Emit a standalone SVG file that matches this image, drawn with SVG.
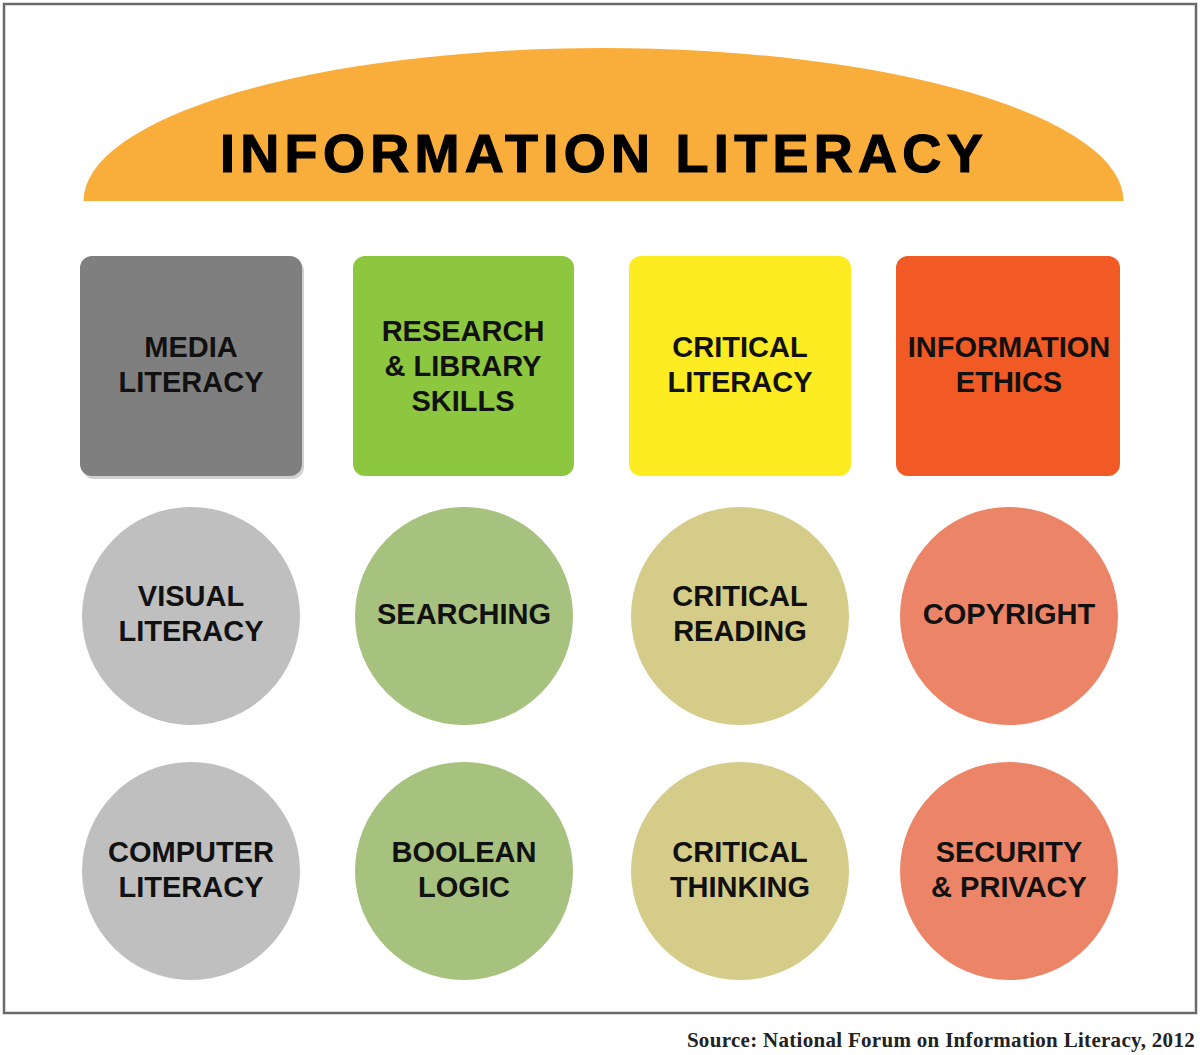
<svg xmlns="http://www.w3.org/2000/svg" width="1200" height="1055" viewBox="0 0 1200 1055">
  <style>
    .lbl { font-family: "Liberation Sans", Arial, sans-serif; font-weight: bold; font-size: 29px; fill: #111; text-anchor: middle; }
    .title { font-family: "Liberation Sans", Arial, sans-serif; font-weight: bold; font-size: 54px; fill: #000; text-anchor: middle; letter-spacing: 5.3px; stroke: #000; stroke-width: 1.2px; }
    .src { font-family: "Liberation Serif", "Times New Roman", serif; font-weight: bold; font-size: 21px; letter-spacing: 0.3px; fill: #222; text-anchor: end; }
    .shadow { fill: #000; opacity: 0.18; }
  </style>
  <rect x="0" y="0" width="1200" height="1055" fill="#ffffff"/>
  <rect id="frame" x="4" y="4" width="1192" height="1009" fill="none" stroke="#6a6a6a" stroke-width="2.5"/>

  <g id="header">
    <path d="M 83.5 201 A 520 153 0 0 1 1123.5 201 Z" fill="#f9ae3c"/>
    <text class="title" x="604" y="172">INFORMATION LITERACY</text>
  </g>

  <g id="media-literacy">
    <rect class="shadow" x="82" y="259" width="222" height="220" rx="12"/>
    <rect x="80" y="256" width="222" height="220" rx="12" fill="#7f7f7f"/>
    <text class="lbl" x="191" y="357">MEDIA</text>
    <text class="lbl" x="191" y="392">LITERACY</text>
  </g>
  <g id="research-library-skills">
    <rect x="353" y="256" width="221" height="220" rx="12" fill="#8dc63f"/>
    <text class="lbl" x="463" y="341">RESEARCH</text>
    <text class="lbl" x="463" y="376">&amp; LIBRARY</text>
    <text class="lbl" x="463" y="411">SKILLS</text>
  </g>
  <g id="critical-literacy">
    <rect x="629" y="256" width="222" height="220" rx="12" fill="#fdec22"/>
    <text class="lbl" x="740" y="357">CRITICAL</text>
    <text class="lbl" x="740" y="392">LITERACY</text>
  </g>
  <g id="information-ethics">
    <rect x="896" y="256" width="224" height="220" rx="12" fill="#f15a24"/>
    <text class="lbl" x="1009" y="357">INFORMATION</text>
    <text class="lbl" x="1009" y="392">ETHICS</text>
  </g>

  <g id="visual-literacy">
    <circle cx="191" cy="616" r="109" fill="#bfbfbf"/>
    <text class="lbl" x="191" y="606">VISUAL</text>
    <text class="lbl" x="191" y="641">LITERACY</text>
  </g>
  <g id="searching">
    <circle cx="464" cy="616" r="109" fill="#a6c27e"/>
    <text class="lbl" x="464" y="624">SEARCHING</text>
  </g>
  <g id="critical-reading">
    <circle cx="740" cy="616" r="109" fill="#d4cc88"/>
    <text class="lbl" x="740" y="606">CRITICAL</text>
    <text class="lbl" x="740" y="641">READING</text>
  </g>
  <g id="copyright">
    <circle cx="1009" cy="616" r="109" fill="#ec8567"/>
    <text class="lbl" x="1009" y="624">COPYRIGHT</text>
  </g>

  <g id="computer-literacy">
    <circle cx="191" cy="871" r="109" fill="#bfbfbf"/>
    <text class="lbl" x="191" y="862">COMPUTER</text>
    <text class="lbl" x="191" y="897">LITERACY</text>
  </g>
  <g id="boolean-logic">
    <circle cx="464" cy="871" r="109" fill="#a6c27e"/>
    <text class="lbl" x="464" y="862">BOOLEAN</text>
    <text class="lbl" x="464" y="897">LOGIC</text>
  </g>
  <g id="critical-thinking">
    <circle cx="740" cy="871" r="109" fill="#d4cc88"/>
    <text class="lbl" x="740" y="862">CRITICAL</text>
    <text class="lbl" x="740" y="897">THINKING</text>
  </g>
  <g id="security-privacy">
    <circle cx="1009" cy="871" r="109" fill="#ec8567"/>
    <text class="lbl" x="1009" y="862">SECURITY</text>
    <text class="lbl" x="1009" y="897">&amp; PRIVACY</text>
  </g>

  <g id="connectors"></g>

  <text id="source" class="src" x="1195" y="1047">Source: National Forum on Information Literacy, 2012</text>
</svg>
